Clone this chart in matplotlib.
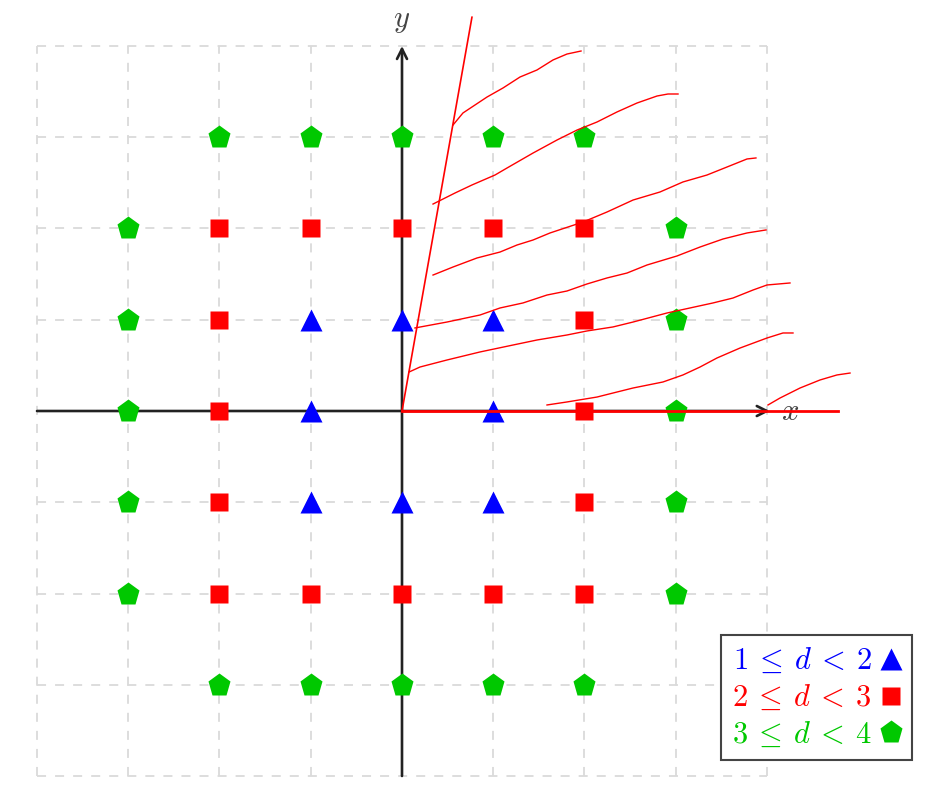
import matplotlib
matplotlib.use("Agg")
import matplotlib.pyplot as plt
from matplotlib.lines import Line2D

plt.rcParams['mathtext.fontset'] = 'cm'

# Lattice points grouped by distance class
blue_x = [-1, 0, 1, -1, 1, -1, 0, 1]
blue_y = [1, 1, 1, 0, 0, -1, -1, -1]

red_x = [-2, -1, 0, 1, 2, -2, 2, -2, 2, -2, 2, -2, -1, 0, 1, 2]
red_y = [2, 2, 2, 2, 2, 1, 1, 0, 0, -1, -1, -2, -2, -2, -2, -2]

green_x = [-2, -1, 0, 1, 2, -3, 3, -3, 3, -3, 3, -3, 3, -3, 3, -2, -1, 0, 1, 2]
green_y = [3, 3, 3, 3, 3, 2, 2, 1, 1, 0, 0, -1, -1, -2, -2, -3, -3, -3, -3, -3]

legend_labels = [r'$1\:\leq\:d\:<\:2$', r'$2\:\leq\:d\:<\:3$', r'$3\:\leq\:d\:<\:4$']

# Hand-drawn red sector boundary and hatching strokes (data units)
ray_x = [0.0, 0.767]
ray_y = [0.0, 4.318]
base_x = [0.0, 4.778]
base_y = [0.0, 0.0]

hatch_strokes = [
    ([0.559, 0.668, 0.932, 1.107, 1.293, 1.479, 1.655, 1.808, 1.962],
     [3.134, 3.266, 3.441, 3.540, 3.660, 3.737, 3.847, 3.912, 3.945]),
    ([0.340, 0.581, 0.767, 1.019, 1.151, 1.436, 1.699, 1.918, 2.137, 2.356, 2.575, 2.795, 2.915, 3.025],
     [2.268, 2.389, 2.477, 2.586, 2.663, 2.827, 2.970, 3.079, 3.167, 3.277, 3.375, 3.452, 3.474, 3.474]),
    ([0.340, 0.559, 0.822, 1.074, 1.260, 1.436, 1.622, 1.984, 2.247, 2.532, 2.827, 3.079, 3.342, 3.562, 3.781, 3.879],
     [1.490, 1.578, 1.677, 1.742, 1.819, 1.874, 1.951, 2.071, 2.181, 2.312, 2.400, 2.510, 2.586, 2.674, 2.762, 2.773]),
    ([0.142, 0.493, 0.855, 1.074, 1.326, 1.589, 1.808, 2.027, 2.247, 2.466, 2.685, 3.014, 3.266, 3.518, 3.781, 3.989],
     [0.910, 0.975, 1.052, 1.129, 1.184, 1.271, 1.315, 1.392, 1.458, 1.512, 1.600, 1.699, 1.797, 1.885, 1.951, 1.984]),
    ([0.077, 0.197, 0.493, 0.855, 1.216, 1.479, 1.808, 2.027, 2.312, 2.532, 2.904, 3.156, 3.408, 3.627, 3.847, 4.000, 4.252],
     [0.427, 0.482, 0.559, 0.647, 0.723, 0.778, 0.833, 0.877, 0.921, 0.975, 1.074, 1.129, 1.184, 1.238, 1.326, 1.381, 1.403]),
    ([1.589, 1.808, 2.137, 2.312, 2.532, 2.860, 3.079, 3.266, 3.452, 3.704, 4.000, 4.175, 4.285],
     [0.066, 0.099, 0.153, 0.197, 0.252, 0.318, 0.395, 0.482, 0.581, 0.690, 0.800, 0.855, 0.855]),
    ([4.011, 4.142, 4.362, 4.581, 4.767, 4.910],
     [0.066, 0.142, 0.252, 0.340, 0.395, 0.416]),
]

grid_vals = [-4, -3, -2, -1, 0, 1, 2, 3, 4]

BLUE = '#0000ff'
RED = '#ff0000'
GREEN = '#00c800'
AXIS = '#222222'

fig = plt.figure(figsize=(9.37, 7.91), dpi=100)
ax = fig.add_axes([0, 0, 1, 1])
ax.set_xlim(-402 / 91.25, (937 - 402) / 91.25)
ax.set_ylim((411 - 791) / 91.25, 411 / 91.25)
ax.axis('off')

# dashed grid
for v in grid_vals:
    ax.plot([v, v], [-4, 4], color='#dadada', lw=1.3, ls=(0, (5, 5)), zorder=1)
    ax.plot([-4, 4], [v, v], color='#dadada', lw=1.3, ls=(0, (5, 5)), zorder=1)

# axes with arrows
ax.annotate('', xy=(4.03, 0), xytext=(-4, 0),
            arrowprops=dict(arrowstyle='->', color=AXIS, lw=1.9,
                            shrinkA=0, shrinkB=0, mutation_scale=18), zorder=2)
ax.annotate('', xy=(0, 4.0), xytext=(0, -4),
            arrowprops=dict(arrowstyle='->', color=AXIS, lw=1.9,
                            shrinkA=0, shrinkB=0, mutation_scale=18), zorder=2)
ax.text(4.25, 0.0, r'$x$', fontsize=22, color='#444444', ha='center', va='center')
ax.text(0.0, 4.28, r'$y$', fontsize=22, color='#444444', ha='center', va='center')

# markers
ax.plot(blue_x, blue_y, ls='none', marker='^', ms=16, color=BLUE, mec='none', zorder=3)
ax.plot(red_x, red_y, ls='none', marker='s', ms=13.5, color=RED, mec='none', zorder=3)
ax.plot(green_x, green_y, ls='none', marker='p', ms=17, color=GREEN, mec='none', zorder=3)

# red hand-drawn lines
ax.plot(ray_x, ray_y, color=RED, lw=1.2, zorder=4, solid_capstyle='round')
ax.plot(base_x, base_y, color=RED, lw=2.0, zorder=4)
for sx, sy in hatch_strokes:
    ax.plot(sx, sy, color=RED, lw=1.0, zorder=4, solid_joinstyle='round')

handles = [
    Line2D([], [], ls='none', marker='^', ms=16, color=BLUE, mec='none'),
    Line2D([], [], ls='none', marker='s', ms=13.5, color=RED, mec='none'),
    Line2D([], [], ls='none', marker='p', ms=17, color=GREEN, mec='none'),
]
leg = ax.legend(handles, legend_labels, loc='lower right',
                bbox_to_anchor=(912 / 937, 1 - 760 / 791), bbox_transform=fig.transFigure,
                borderaxespad=0, markerfirst=False, fancybox=False, framealpha=1,
                edgecolor='#444444', fontsize=22, handlelength=0.7, handletextpad=0.25,
                labelspacing=0.25, borderpad=0.35, labelcolor=[BLUE, RED, GREEN])
leg.get_frame().set_linewidth(1.5)
leg.set_zorder(6)

fig.savefig('out.png', dpi=100)
